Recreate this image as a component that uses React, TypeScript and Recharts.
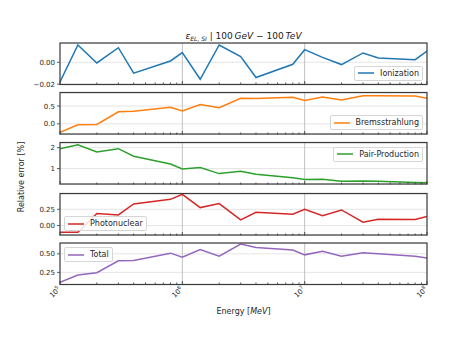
import React from 'react';
import { LineChart, Line, XAxis, YAxis, CartesianGrid, ReferenceLine } from 'recharts';

// ---- data ----
const energies = [1e5, 1.4e5, 2e5, 3e5, 4e5, 8e5, 1e6, 1.4e6, 2e6, 3e6, 4e6, 8e6, 1e7, 1.4e7, 2e7, 3e7, 4e7, 8e7, 1e8];
const ionization = [-0.018, 0.0158, -0.0006, 0.0133, -0.010, 0.0012, 0.0088, -0.0155, 0.0158, 0.0052, -0.0139, -0.0018, 0.0115, 0.0045, -0.0021, 0.0085, 0.0039, 0.0024, 0.0103];
const bremsstrahlung = [-0.236, -0.027, -0.018, 0.336, 0.355, 0.464, 0.364, 0.545, 0.455, 0.718, 0.709, 0.745, 0.655, 0.755, 0.673, 0.791, 0.79, 0.782, 0.718];
const pairProduction = [1.95, 2.14, 1.79, 1.95, 1.59, 1.22, 0.98, 1.05, 0.76, 0.87, 0.73, 0.56, 0.48, 0.49, 0.40, 0.41, 0.39, 0.33, 0.32];
const photonuclear = [-0.102, -0.102, 0.184, 0.163, 0.332, 0.403, 0.48, 0.276, 0.337, 0.087, 0.204, 0.173, 0.25, 0.153, 0.24, 0.051, 0.097, 0.092, 0.138];
const total = [0.114, 0.214, 0.245, 0.405, 0.41, 0.509, 0.455, 0.559, 0.468, 0.632, 0.586, 0.55, 0.486, 0.536, 0.468, 0.514, 0.5, 0.468, 0.445];

const seriesKeys = ['ionization', 'bremsstrahlung', 'pairProduction', 'photonuclear', 'total'];
const seriesValues = [ionization, bremsstrahlung, pairProduction, photonuclear, total];
const seriesNames = ['Ionization', 'Bremsstrahlung', 'Pair-Production', 'Photonuclear', 'Total'];
const seriesColors = ['#1f77b4', '#ff7f0e', '#2ca02c', '#d62728', '#9467bd'];

const yDomains: [number, number][] = [[-0.0203, 0.0176], [-0.3, 0.866], [0.24, 2.22], [-0.153, 0.485], [0.086, 0.646]];
const yTicks = [[-0.02, 0], [0, 0.5], [1, 2], [0, 0.25], [0.25, 0.5]];
const yTickLabels = [['\u22120.02', '0.00'], ['0.0', '0.5'], ['1', '2'], ['0.00', '0.25'], ['0.25', '0.50']];
const legendPlacement = ['lower right', 'lower right', 'upper right', 'lower left', 'upper left'];

const xDomain: [number, number] = [1e5, 1e8];
const xDecades = [1e5, 1e6, 1e7, 1e8];
const xGridDecades = [1e6, 1e7];
const xMinorMultipliers = [2, 3, 4, 5, 6, 7, 8, 9];

const titleText = { symbol: '\u03b5', sub: 'EL, SI', range: ['100', 'GeV', '100', 'TeV'] };
const yLabel = 'Relative error [%]';
const xLabel = { text: 'Energy', unit: 'MeV' };

// ---- layout ----
const W = 474;
const H = 355;
const PLOT_L = 60;
const PLOT_R = 427;
const PANEL_H = 41.5;
const panelTops = [43, 92.5, 142.5, 193.5, 243];
const FONT = "'DejaVu Sans', sans-serif";

const rows = energies.map((e, i) => {
  const r: Record<string, number> = { energy: e };
  seriesKeys.forEach((k, s) => { r[k] = seriesValues[s][i]; });
  return r;
});

const allXTicks: number[] = [];
xDecades.forEach((d, i) => {
  allXTicks.push(d);
  if (i < xDecades.length - 1) xMinorMultipliers.forEach((m) => allXTicks.push(d * m));
});

const XTick = (props: any) => {
  const { x, y, payload, showLabels } = props;
  const v = payload.value;
  const exp = Math.log10(v);
  const major = Math.abs(exp - Math.round(exp)) < 1e-6;
  return (
    <g>
      <line x1={x} x2={x} y1={y} y2={y - (major ? 3.5 : 2)} stroke="#333" strokeWidth={0.8} />
      {showLabels && major && (
        <text transform={`translate(${x + 1},${y + 5}) rotate(-45)`} textAnchor="end" fontSize={7} fill="#262626" fontFamily={FONT}>
          10<tspan dy={-3} fontSize={5}>{Math.round(exp)}</tspan>
        </text>
      )}
    </g>
  );
};

const Legend = ({ i }: { i: number }) => {
  const place = legendPlacement[i];
  const top = panelTops[i];
  const style: React.CSSProperties = {
    position: 'absolute',
    height: 15,
    boxSizing: 'border-box',
    border: '1px solid #d6d6d6',
    borderRadius: 2,
    background: 'rgba(255,255,255,0.85)',
    display: 'flex',
    alignItems: 'center',
    padding: '0 3px 0 3px',
    fontFamily: FONT,
    fontSize: 8,
    color: '#262626',
    whiteSpace: 'nowrap',
  };
  if (place.includes('right')) style.right = W - PLOT_R + 4; else style.left = PLOT_L + 4;
  if (place.includes('lower')) style.top = top + PANEL_H - 4 - 15; else style.top = top + 4;
  return (
    <div style={style}>
      <svg width={16} height={4} style={{ marginRight: 6, display: 'block' }}>
        <line x1={0} x2={16} y1={2} y2={2} stroke={seriesColors[i]} strokeWidth={1.5} />
      </svg>
      <span>{seriesNames[i]}</span>
    </div>
  );
};

const Panel = ({ i }: { i: number }) => {
  const labels = yTickLabels[i];
  const ticks = yTicks[i];
  return (
    <div style={{ position: 'absolute', left: 0, top: panelTops[i] }}>
      <LineChart width={W} height={PANEL_H + 30} data={rows} margin={{ top: 0, right: W - PLOT_R, bottom: 0, left: 20 }}>
        <CartesianGrid vertical={false} stroke="#dedede" strokeWidth={0.8} />
        {xGridDecades.map((d) => (
          <ReferenceLine key={d} x={d} stroke="#b0b0b0" strokeWidth={0.8} />
        ))}
        <XAxis
          dataKey="energy"
          type="number"
          scale="log"
          domain={xDomain}
          ticks={allXTicks}
          interval={0}
          tickSize={0}
          tickMargin={0}
          axisLine={false}
          tickLine={false}
          height={30}
          allowDataOverflow
          tick={<XTick showLabels={i === 4} />}
        />
        <YAxis
          type="number"
          domain={yDomains[i]}
          ticks={ticks}
          interval={0}
          allowDataOverflow
          width={40}
          tickSize={3}
          tickMargin={2}
          axisLine={false}
          tickLine={{ stroke: '#333', strokeWidth: 0.8 }}
          tick={{ fontSize: 7, fill: '#262626', fontFamily: FONT }}
          tickFormatter={(v: number) => {
            const idx = ticks.findIndex((t) => Math.abs(t - v) < 1e-9);
            return idx >= 0 ? labels[idx] : String(v);
          }}
        />
        <Line
          type="linear"
          dataKey={seriesKeys[i]}
          stroke={seriesColors[i]}
          strokeWidth={1.5}
          dot={false}
          isAnimationActive={false}
        />
      </LineChart>
    </div>
  );
};

export default function App() {
  return (
    <div style={{ position: 'absolute', left: 0, top: 0, width: W, height: H, background: '#fff', fontFamily: FONT, overflow: 'hidden' }}>
      {seriesKeys.map((_, i) => <Panel key={i} i={i} />)}
      <svg width={W} height={H} style={{ position: 'absolute', left: 0, top: 0, pointerEvents: 'none' }}>
        {panelTops.map((t, i) => (
          <rect key={i} x={PLOT_L} y={t} width={PLOT_R - PLOT_L} height={PANEL_H} fill="none" stroke="#3a3a3a" strokeWidth={1.2} />
        ))}
        <text x={(PLOT_L + PLOT_R) / 2} y={38.5} textAnchor="middle" fontSize={9} fill="#1a1a1a" fontFamily={FONT}>
          <tspan fontStyle="italic">{titleText.symbol}</tspan>
          <tspan fontStyle="italic" fontSize={6} dy={2}>{titleText.sub}</tspan>
          <tspan dy={-2}>{' | ' + titleText.range[0] + '\u2009'}</tspan>
          <tspan fontStyle="italic">{titleText.range[1]}</tspan>
          <tspan>{' \u2212 ' + titleText.range[2] + '\u2009'}</tspan>
          <tspan fontStyle="italic">{titleText.range[3]}</tspan>
        </text>
        <text transform={`translate(24,177) rotate(-90)`} textAnchor="middle" fontSize={8} fill="#262626" fontFamily={FONT}>
          {yLabel}
        </text>
        <text x={(PLOT_L + PLOT_R) / 2} y={314} textAnchor="middle" fontSize={8} fill="#262626" fontFamily={FONT}>
          {xLabel.text + ' ['}<tspan fontStyle="italic">{xLabel.unit}</tspan>{']'}
        </text>
      </svg>
      {seriesKeys.map((_, i) => <Legend key={i} i={i} />)}
    </div>
  );
}
